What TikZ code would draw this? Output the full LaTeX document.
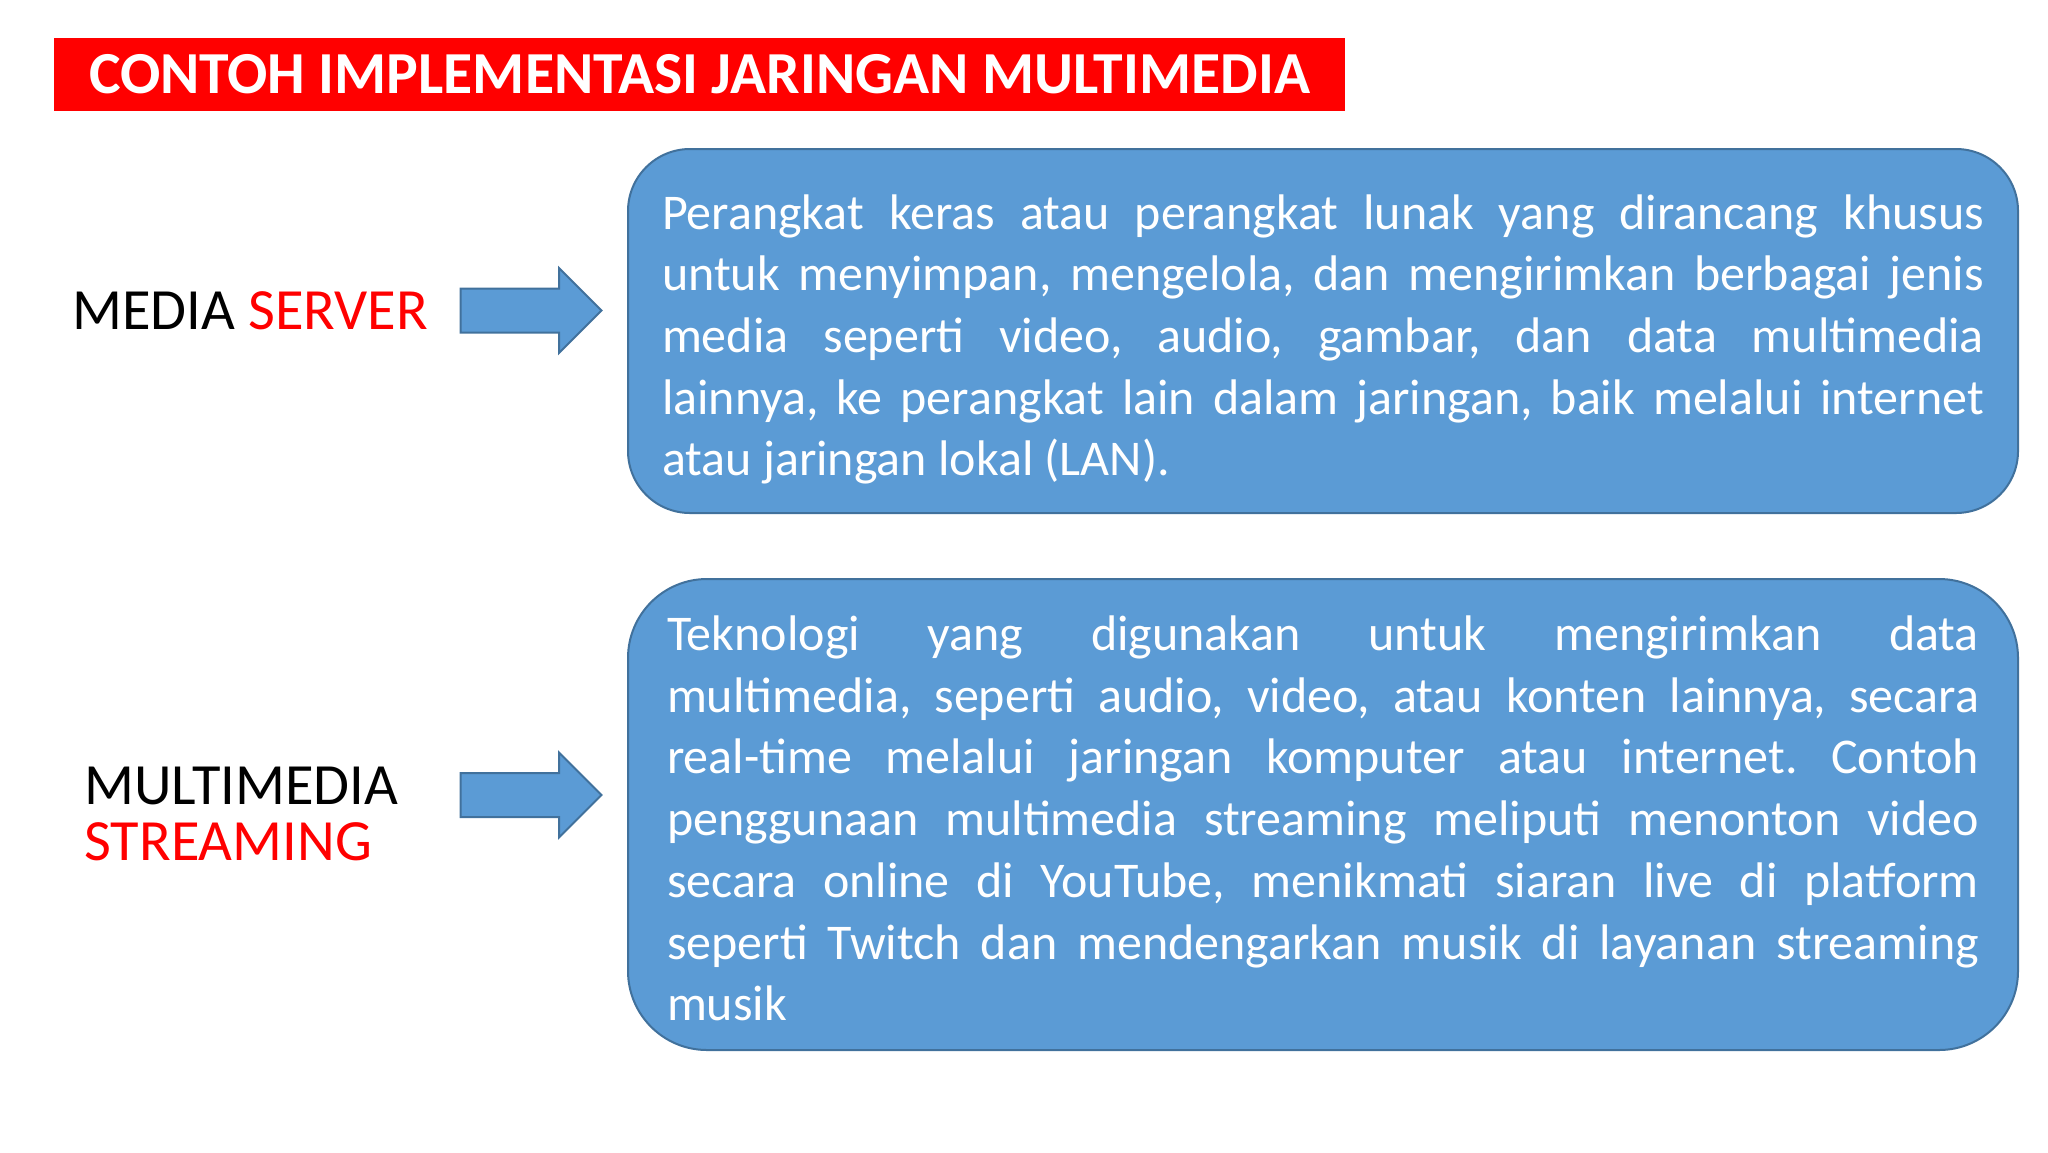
\documentclass[tikz,border=0pt]{standalone}
\usepackage{fontspec}
\setmainfont{Carlito}
\usepackage{tikz}
\usetikzlibrary{positioning}
\usetikzlibrary{shapes.arrows}
\definecolor{boxblue}{HTML}{5B9BD5}
\definecolor{boxline}{HTML}{41719C}
\definecolor{titlered}{HTML}{FF0000}
\pretolerance=10000
\tolerance=10000
\hyphenpenalty=10000
\hbadness=10000
\frenchspacing

\begin{document}
\begin{tikzpicture} [x = 0.5pt, y = -0.5pt,
    infobox/.style = {draw = boxline, fill = boxblue, line width = 1pt, minimum width = 695pt, inner sep = 0pt},
    bodytext/.style = {text = white, font = \fontsize{25}{30.85}\selectfont, align = justify, inner sep = 0pt},
    bigarrow/.style = {single arrow, draw = boxline, fill = boxblue, line width = 1pt,
      minimum height = 70.5pt, minimum width = 41.5pt, single arrow head extend = 10.25pt,
      single arrow tip angle = 90, inner xsep = 0pt, inner ysep = 10.5pt},
    topic/.style = {font = \fontsize{29.2}{28}\selectfont, inner sep = 0pt, align = left, anchor = west}]
    \useasboundingbox (0,0) rectangle (2048,1152);
    % title
    \node [fill = titlered, text = white, font = \fontsize{29.8}{32}\selectfont\bfseries,
      minimum width = 645.5pt, minimum height = 36.5pt, inner sep = 0pt] (title) at (699.5,74.5)
      {CONTOH IMPLEMENTASI JARINGAN MULTIMEDIA};
    % media server
    \node [topic] (srvlabel) at (72,311) {MEDIA \textcolor{titlered}{SERVER}};
    \node [bigarrow] (srvarrow) at (520,310.5) {};
    \node [infobox, minimum height = 182pt, rounded corners = 31pt] (srvbox) at (1323,331) {};
    \node [bodytext, text width = 661pt] (srvtext) at (1323,339.5)
      {Perangkat keras atau perangkat lunak yang dirancang khusus\linebreak
      untuk menyimpan, mengelola, dan mengirimkan berbagai jenis\linebreak
      media seperti video, audio, gambar, dan data multimedia\linebreak
      lainnya, ke perangkat lain dalam jaringan, baik melalui internet\linebreak
      atau jaringan lokal (LAN).};
    % multimedia streaming
    \node [topic] (strlabel) at (84,814) {MULTIMEDIA\\\textcolor{titlered}{STREAMING}};
    \node [bigarrow] (strarrow) at (520,795) {};
    \node [infobox, minimum height = 235.5pt, rounded corners = 39.5pt] (strbox) at (1323,814.5) {};
    \node [bodytext, text width = 656pt] (strtext) at (1323,818.5)
      {Teknologi yang digunakan untuk mengirimkan data\linebreak
      multimedia, seperti audio, video, atau konten lainnya, secara\linebreak
      real-time melalui jaringan komputer atau internet. Contoh\linebreak
      penggunaan multimedia streaming meliputi menonton video\linebreak
      secara online di YouTube, menikmati siaran live di platform\linebreak
      seperti Twitch dan mendengarkan musik di layanan streaming\linebreak
      musik};
  \end{tikzpicture}
\end{document}
